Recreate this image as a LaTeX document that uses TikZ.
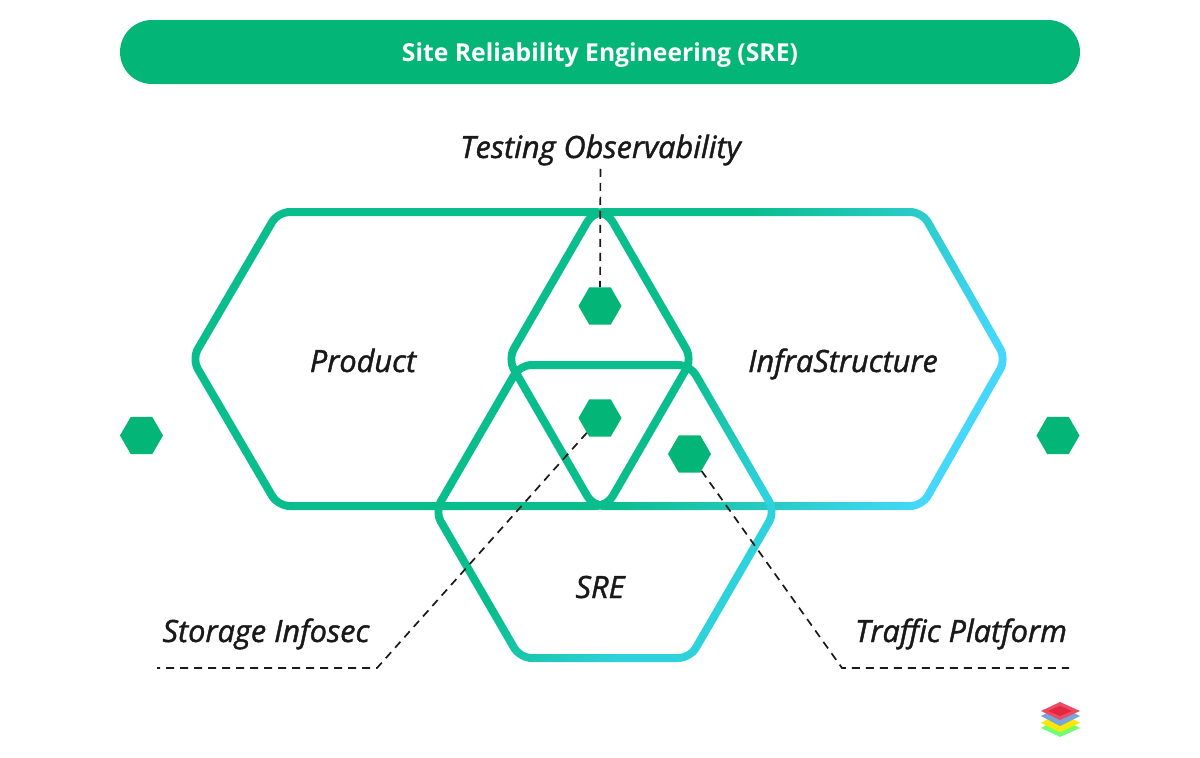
\documentclass[tikz,border=0pt]{standalone}
\usepackage{fontspec}
\setmainfont{Open Sans}
\newfontfamily\labelfont[ItalicFeatures={FakeBold=1.4}]{Open Sans}
\usepackage{xcolor}
\usetikzlibrary{shapes.geometric}

\definecolor{barGreen}{HTML}{03B577}
\definecolor{ringGreen}{HTML}{0ABD8C}
\definecolor{ringCyan}{HTML}{45D8FC}
\definecolor{ringTeal}{HTML}{2ED2DC}

\pgfdeclarehorizontalshading{ringFade}{100bp}{color(0bp)=(ringGreen); color(42bp)=(ringGreen); color(74bp)=(ringCyan); color(100bp)=(ringCyan)}
\pgfdeclarehorizontalshading{ringFadeLow}{100bp}{color(0bp)=(ringGreen); color(46bp)=(ringGreen); color(66bp)=(ringTeal); color(100bp)=(ringTeal)}

% hexagon ring: #1 fill options, #2 left, #3 top-left, #4 top-right, #5 right, #6 top, #7 bottom
\newcommand{\ringhex}[7]{%
  \pgfmathsetmacro{\midy}{(#6+#7)/2}%
  \path[even odd rule,#1]
    [rounded corners=14pt] (#2-4.62,\midy) -- (#3-2.31,#6-4) -- (#4+2.31,#6-4) -- (#5+4.62,\midy) -- (#4+2.31,#7+4) -- (#3-2.31,#7+4) -- cycle
    [rounded corners=9pt] (#2+4.62,\midy) -- (#3+2.31,#6+4) -- (#4-2.31,#6+4) -- (#5-4.62,\midy) -- (#4-2.31,#7-4) -- (#3+2.31,#7-4) -- cycle;
}

\tikzset{
  hexdot/.style={regular polygon, regular polygon sides=6, fill=barGreen, minimum size=43pt, inner sep=0pt},
  label/.style={font=\labelfont\fontsize{30.7}{32}\selectfont\itshape, text=black!90, anchor=base},
  leader/.style={dash pattern=on 8pt off 6pt, line width=1.7pt, black!90}
}

\begin{document}
\begin{tikzpicture}[x=1pt,y=-1pt]
  \useasboundingbox (0,0) rectangle (1200,758);

  \fill[barGreen, rounded corners=32pt] (120,20) rectangle (1080,84);
  \node[font=\fontsize{24.7}{26}\selectfont\bfseries, text=white, anchor=base] (title) at (600,61) {Site Reliability Engineering (SRE)};

  \ringhex{fill=ringGreen}{192}{278}{607}{692}{212}{506}
  \ringhex{shading=ringFade,shading angle=-25}{508}{593}{922}{1006}{212}{506}
  \ringhex{shading=ringFadeLow,shading angle=-40}{435}{520}{690}{775}{365}{658}

  \node[hexdot] (dotTest) at (600,306) {};
  \node[hexdot] (dotStore) at (600,418) {};
  \node[hexdot] (dotTraffic) at (689.5,454) {};
  \node[hexdot] (dotLeft) at (141.5,435.5) {};
  \node[hexdot] (dotRight) at (1058,435.5) {};

  \node[label] (testLabel) at (600.5,158) {Testing Observability};
  \node[label] (productLabel) at (363,372) {Product};
  \node[label] (infraLabel) at (843,372) {InfraStructure};
  \node[label] (sreLabel) at (600,598) {SRE};
  \node[label] (storeLabel) at (266,642) {Storage Infosec};
  \node[label] (trafficLabel) at (961,642) {Traffic Platform};

  \coordinate (storeBend) at (377,668);
  \coordinate (storeEnd) at (157,668);
  \coordinate (trafficBend) at (842,668);
  \coordinate (trafficEnd) at (1069,668);
  \draw[leader] (testLabel) -- (dotTest);
  \draw[leader] (dotStore) -- (storeBend) -- (storeEnd);
  \draw[leader] (dotTraffic) -- (trafficBend) -- (trafficEnd);

  % stacked layers
  \fill[green!55!white] (1060,717) -- (1080,728) -- (1060,737) -- (1041,728) -- cycle;
  \fill[yellow!90!orange] (1060,712) -- (1080,723) -- (1060,732) -- (1041,723) -- cycle;
  \fill[cyan!55!blue!55] (1060,706) -- (1080,716) -- (1060,726) -- (1041,716) -- cycle;
  \fill[red!55!purple!70] (1060,702) -- (1080,711) -- (1060,720) -- (1041,711) -- cycle;
  \fill[red!50!purple!85] (1060,706) -- (1072,711) -- (1060,716) -- (1048,711) -- cycle;
\end{tikzpicture}
\end{document}
